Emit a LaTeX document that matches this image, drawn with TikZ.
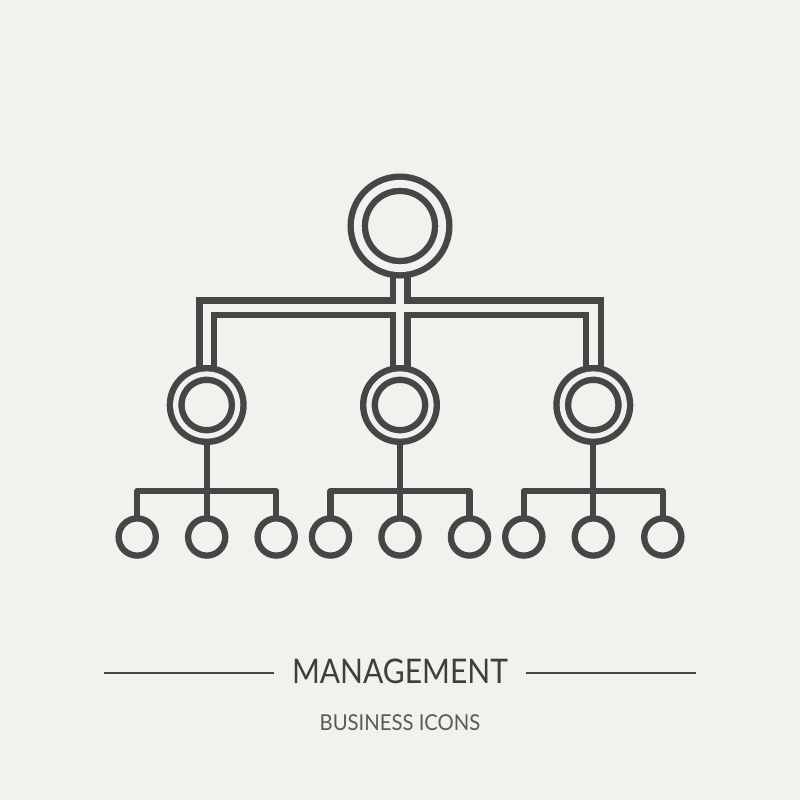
\documentclass[tikz,border=0pt]{standalone}
\usepackage{fontspec}
\setmainfont{Lato}
\usetikzlibrary{positioning,backgrounds}

\definecolor{paper}{HTML}{F2F1EE}
\definecolor{ink}{HTML}{464646}
\definecolor{caption}{HTML}{3E3E3E}
\definecolor{subcaption}{HTML}{5A5A5A}

\tikzset{
  ring/.style={circle, draw=ink, fill=paper, line width=6.4pt, double=paper, inner sep=0pt},
  hub/.style={ring, double distance=7.8pt, minimum size=84.4pt},
  unit/.style={ring, double distance=5.2pt, minimum size=62pt},
  leaf/.style={circle, draw=ink, fill=paper, line width=6.3pt, inner sep=0pt, minimum size=37.2pt},
  pipe/.style={draw=ink, line width=6.3pt, double=paper, double distance=8.4pt},
  link/.style={draw=ink, line width=6.3pt, line join=round},
  rule/.style={draw=ink, line width=2.6pt}
}

\begin{document}
\begin{tikzpicture}[x=1pt, y=-1pt, on grid]
  % chart
  \node[hub] (top) at (400,226) {};
  \node[unit, below=179pt of top] (midC) {};
  \node[unit, left=193.3pt of midC] (midL) {};
  \node[unit, right=193.3pt of midC] (midR) {};
  \foreach \g in {L,C,R} {
    \node[leaf, below=132pt of mid\g] (leaf\g2) {};
    \node[leaf, left=69.5pt of leaf\g2] (leaf\g1) {};
    \node[leaf, right=69.5pt of leaf\g2] (leaf\g3) {};
  }
  \coordinate (bar) at (400,307.8);
  \coordinate (twig) at (400,491);

  % caption
  \node[font=\fontsize{33.9}{40}\selectfont, text=caption, anchor=base, inner xsep=18pt] (title) at (400,683.3) {\scalebox{0.885}[1]{MANAGEMENT}};
  \node[font=\fontsize{21.9}{26}\selectfont, text=subcaption, anchor=base] (subtitle) at (400,730) {\scalebox{0.925}[1]{BUSINESS ICONS}};
  \coordinate (ruleL) at (104,673);
  \coordinate (ruleR) at (696,673);
  \draw[rule] (ruleL) -- (ruleL -| title.west);
  \draw[rule] (ruleR -| title.east) -- (ruleR);

  \begin{scope}[on background layer]
    \fill[paper] (0,0) rectangle (800,800);
    \draw[pipe] (top.center) -- (midC.center)
      (midL.center) -- (midL.center |- bar) -- (midR.center |- bar) -- (midR.center);
    \foreach \g in {L,C,R} {
      \draw[link] (mid\g.center) -- (leaf\g2.center);
      \draw[link] (leaf\g1.center) -- (leaf\g1.center |- twig) -- (leaf\g3.center |- twig) -- (leaf\g3.center);
    }
  \end{scope}
\end{tikzpicture}
\end{document}
